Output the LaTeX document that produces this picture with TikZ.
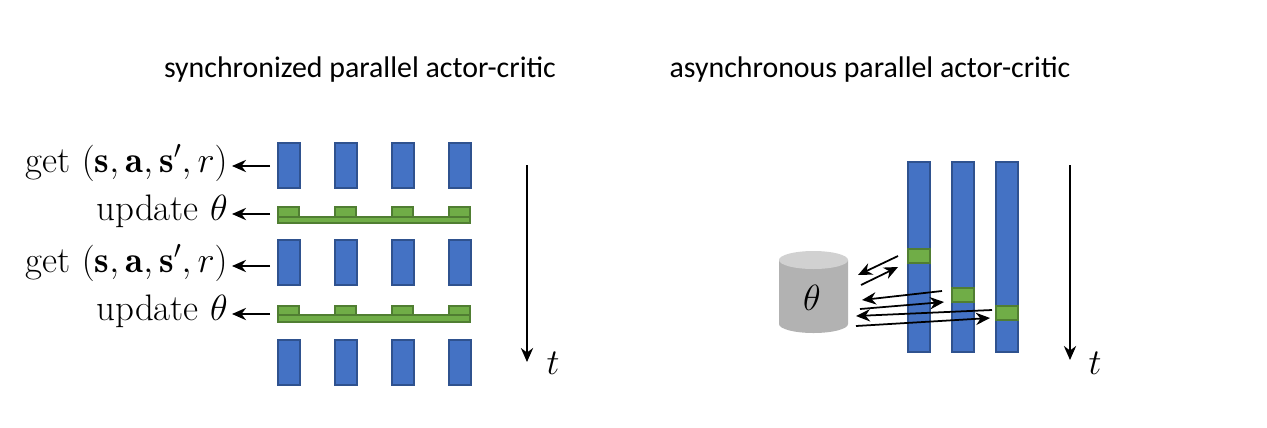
\documentclass[tikz,border=0pt]{standalone}
\usepackage{fontspec}
\usepackage{amsmath}
\setsansfont{Carlito}
\usetikzlibrary{arrows.meta}
\definecolor{bblue}{HTML}{4472C4}
\definecolor{bblued}{HTML}{2F528F}
\definecolor{ggreen}{HTML}{70AD47}
\definecolor{ggreend}{HTML}{507E32}
\begin{document}
\begin{tikzpicture}[x=0.02cm,y=-0.02cm,
  blk/.style={fill=bblue,draw=bblued,line width=0.6pt},
  grn/.style={fill=ggreen,draw=ggreend,line width=0.6pt},
  arr/.style={-{Stealth[length=8pt,width=7pt]},line width=1pt},
  lab/.style={anchor=east,font=\fontsize{21}{24}\selectfont,inner sep=0pt},
  ttl/.style={font=\sffamily\fontsize{17}{20}\selectfont}]
\useasboundingbox (0,0) rectangle (1267,427);
\node[ttl] (t1) at (360,70) {synchronized parallel actor-critic};
\node[ttl] (t2) at (870,70) {asynchronous parallel actor-critic};
% left blocks
\foreach \x in {278,335,392,449}{
  \foreach \y in {143,240,340}{
    \draw[blk] (\x,\y) rectangle ++(22,45);}
  \draw[grn] (\x,207) rectangle ++(21,10);
  \draw[grn] (\x,306) rectangle ++(21,9);
}
\draw[grn] (278,217) rectangle (470,223);
\draw[grn] (278,315) rectangle (470,322);
\coordinate (a1) at (270,166); \coordinate (b1) at (232,166);
\coordinate (a2) at (270,214); \coordinate (b2) at (232,214);
\coordinate (a3) at (270,266); \coordinate (b3) at (232,266);
\coordinate (a4) at (270,314); \coordinate (b4) at (232,314);
\node[lab] (l1) at (228,163) {get $(\mathbf{s},\mathbf{a},\mathbf{s}',r)$};
\node[lab] (l2) at (228,211) {update $\theta$};
\node[lab] (l3) at (228,263) {get $(\mathbf{s},\mathbf{a},\mathbf{s}',r)$};
\node[lab] (l4) at (228,311) {update $\theta$};
\foreach \i in {1,2,3,4} \draw[arr] (a\i) -- (b\i);
\coordinate (ts) at (527,165); \coordinate (te) at (527,362);
\draw[arr] (ts) -- (te);
\node[font=\fontsize{21}{24}\selectfont] (tl) at (553,363) {$t$};
% right
\draw[blk] (908,162) rectangle (930,352);
\draw[blk] (952,162) rectangle (974,352);
\draw[blk] (996,162) rectangle (1018,352);
\draw[grn] (908,249) rectangle (930,263);
\draw[grn] (952,288) rectangle (974,302);
\draw[grn] (996,306) rectangle (1018,320);
% cylinder
\fill[black!30] (779,260) -- (779,324) arc[start angle=180,end angle=0,x radius=34.5,y radius=9] -- (848,260) -- cycle;
\fill[black!18] (813.5,260) ellipse[x radius=34.5,y radius=9];
\node[font=\fontsize{22}{25}\selectfont] (th) at (812,298) {$\theta$};
\coordinate (p1) at (898,256); \coordinate (q1) at (858,275);
\coordinate (p2) at (861,285); \coordinate (q2) at (898,267);
\coordinate (p3) at (942,291); \coordinate (q3) at (862,300);
\coordinate (p4) at (860,309); \coordinate (q4) at (944,302);
\coordinate (p5) at (992,310); \coordinate (q5) at (856,316);
\coordinate (p6) at (856,326); \coordinate (q6) at (990,318);
\foreach \i in {1,...,6} \draw[arr] (p\i) -- (q\i);
\coordinate (us) at (1070,165); \coordinate (ue) at (1070,360);
\draw[arr] (us) -- (ue);
\node[font=\fontsize{21}{24}\selectfont] (ul) at (1095,363) {$t$};
\end{tikzpicture}
\end{document}
